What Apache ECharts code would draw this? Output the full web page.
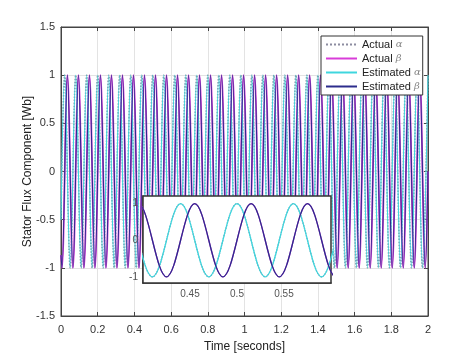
<!DOCTYPE html>
<html><head><meta charset="utf-8">
<script src="https://cdn.jsdelivr.net/npm/echarts@6/dist/echarts.min.js"></script>
<style>html,body{margin:0;padding:0;background:#fff}#c{width:474px;height:355px}</style>
</head><body><div id="c"></div>
<script>
// Times (s) of successive extrema (peaks/troughs alternate, amplitude 1 Wb)
const alphaStart = [0, -0.5];
const alphaExtremaT = [0.02,0.05,0.08,0.11,0.14,0.17,0.20,0.23,0.26,0.29,0.32,0.35,0.38,0.41,0.44,0.47,0.50,0.53,0.56,0.59,0.62,0.65,0.68,0.71,0.74,0.77,0.80,0.83,0.86,0.89,0.92,0.95,0.98,1.01,1.04,1.07,1.10,1.13,1.16,1.19,1.22,1.25,1.28,1.31,1.34,1.37,1.40,1.43,1.46,1.49,1.52,1.55,1.58,1.61,1.64,1.67,1.70,1.73,1.76,1.79,1.82,1.85,1.88,1.91,1.94,1.97,2.00];
const alphaFirstSign = 1;
const betaStart = [0, -0.87];
const betaExtremaT = [0.005,0.035,0.065,0.095,0.125,0.155,0.185,0.215,0.245,0.275,0.305,0.335,0.365,0.395,0.425,0.455,0.485,0.515,0.545,0.575,0.605,0.635,0.665,0.695,0.725,0.755,0.785,0.815,0.845,0.875,0.905,0.935,0.965,0.995,1.025,1.055,1.085,1.115,1.145,1.175,1.205,1.235,1.265,1.295,1.325,1.355,1.385,1.415,1.445,1.475,1.505,1.535,1.565,1.595,1.625,1.655,1.685,1.715,1.745,1.775,1.805,1.835,1.865,1.895,1.925,1.955,1.985];
const betaFirstSign = -1;
const betaEnd = [2.0, 0.0];
const amplitude = 1;

const seriesNames = ['Actual α','Actual β','Estimated α','Estimated β'];
const seriesColors = ['#8c8ca0','#d83cd8','#3fd6de','#2c2c8c'];

function build(start, times, sign, end){
  const d=[start];
  times.forEach((t,i)=>d.push([t, (i%2===0?sign:-sign)*amplitude]));
  if(end) d.push(end);
  return d;
}
const alphaData = build(alphaStart, alphaExtremaT, alphaFirstSign, null);
const betaData = build(betaStart, betaExtremaT, betaFirstSign, betaEnd);
const datas = [alphaData, betaData, alphaData, betaData];
const styles = [
  {type:'dotted', width:1.5},
  {type:'solid', width:1.8},
  {type:'solid', width:1.1},
  {type:'solid', width:1.1}
];
const SM = 0.36;
const FONT = 'Liberation Sans';

const series = [];
seriesNames.forEach((n,i)=>{
  series.push({name:n, type:'line', xAxisIndex:0, yAxisIndex:0, data:datas[i], symbol:'none', smooth:SM,
    lineStyle:Object.assign({color:seriesColors[i]}, styles[i]), itemStyle:{color:seriesColors[i]}, animation:false, z:2});
});
seriesNames.forEach((n,i)=>{
  const s = {name:n, type:'line', xAxisIndex:2, yAxisIndex:2, data:datas[i], symbol:'none', smooth:SM,
    lineStyle:Object.assign({color:seriesColors[i]}, styles[i], {width:1.3}), itemStyle:{color:seriesColors[i]}, animation:false, zlevel:1, z:3};
  if(i===0){
    s.markLine = {silent:true, symbol:'none', label:{show:false}, animation:false,
      lineStyle:{color:'#e2e2e2', type:'solid', width:1},
      data:[{xAxis:0.45},{xAxis:0.5},{xAxis:0.55},{yAxis:1},{yAxis:0},{yAxis:-1}]};
  }
  series.push(s);
});

const chart = echarts.init(document.getElementById('c'), null, {renderer:'canvas'});
chart.setOption({
  backgroundColor:'#fff',
  animation:false,
  textStyle:{fontFamily:FONT},
  grid:[
    {left:61, top:27, right:46, bottom:39, show:true, borderColor:'#444', borderWidth:1, backgroundColor:'#fff', outerBoundsMode:'none', containLabel:false},
    {left:143, top:196, width:188, height:87, show:true, borderColor:'#333', borderWidth:1.5, backgroundColor:'#fff', zlevel:1, z:1, outerBoundsMode:'none', containLabel:false}
  ],
  xAxis:[
    {type:'value', gridIndex:0, min:0, max:2, interval:0.2, name:'Time [seconds]', nameLocation:'middle', nameGap:25, nameMoveOverlap:false,
      nameTextStyle:{fontSize:12, color:'#222', fontFamily:FONT},
      axisLine:{onZero:false, lineStyle:{color:'#444'}}, axisTick:{inside:true, length:4, lineStyle:{color:'#444'}},
      axisLabel:{fontSize:11, color:'#333', margin:8, fontFamily:FONT},
      splitLine:{show:true, lineStyle:{color:'#e3e3e3'}}},
    {type:'value', gridIndex:0, position:'top', min:0, max:2, interval:0.2,
      axisLine:{onZero:false, lineStyle:{color:'#444'}}, axisTick:{inside:true, length:4, lineStyle:{color:'#444'}},
      axisLabel:{show:false}, splitLine:{show:false}},
    {type:'value', gridIndex:1, min:0.4, max:0.6, interval:0.05, zlevel:1,
      axisLine:{onZero:false, lineStyle:{color:'#333', width:1.5}}, axisTick:{inside:true, length:3, lineStyle:{color:'#333'}},
      axisLabel:{fontSize:10, color:'#555', margin:6, showMinLabel:false, showMaxLabel:false, fontFamily:FONT},
      splitLine:{show:false}}
  ],
  yAxis:[
    {type:'value', gridIndex:0, min:-1.5, max:1.5, interval:0.5, name:'Stator Flux Component [Wb]', nameLocation:'middle', nameGap:27, nameMoveOverlap:false,
      nameTextStyle:{fontSize:12, color:'#222', fontFamily:FONT},
      axisLine:{onZero:false, lineStyle:{color:'#444'}}, axisTick:{inside:true, length:4, lineStyle:{color:'#444'}},
      axisLabel:{fontSize:11, color:'#333', margin:6, fontFamily:FONT},
      splitLine:{show:true, lineStyle:{color:'#e3e3e3'}}},
    {type:'value', gridIndex:0, position:'right', min:-1.5, max:1.5, interval:0.5,
      axisLine:{onZero:false, lineStyle:{color:'#444'}}, axisTick:{inside:true, length:4, lineStyle:{color:'#444'}},
      axisLabel:{show:false}, splitLine:{show:false}},
    {type:'value', gridIndex:1, min:-1.17, max:1.21, zlevel:1,
      axisLine:{onZero:false, lineStyle:{color:'#333', width:1.5}},
      axisTick:{inside:true, length:3, lineStyle:{color:'#333'}, customValues:[-1,0,1]},
      axisLabel:{fontSize:10, color:'#555', margin:5, customValues:[-1,0,1], fontFamily:FONT},
      splitLine:{show:false}}
  ],
  legend:{
    data:seriesNames, orient:'vertical', left:321, top:36, zlevel:2,
    padding:[3,2,3,4], itemGap:3, itemWidth:31, itemHeight:10,
    itemStyle:{opacity:0},
    backgroundColor:'#fff', borderColor:'#333', borderWidth:1,
    textStyle:{fontSize:11, color:'#222', fontFamily:FONT,
      rich:{g:{fontFamily:'DejaVu Serif', fontStyle:'italic', fontSize:10, color:'#888'}}},
    formatter:function(n){ return n.slice(0,-1)+'{g|'+n.slice(-1)+'}'; },
    selectedMode:false
  },
  series:series
});
</script></body></html>
